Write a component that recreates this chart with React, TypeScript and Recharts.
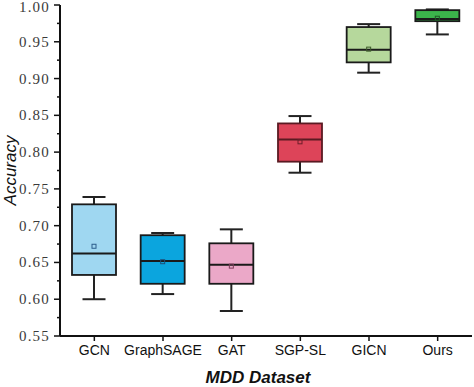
import { ComposedChart, Bar, XAxis, YAxis, Label } from 'recharts'

// box plot values
const categories = ['GCN', 'GraphSAGE', 'GAT', 'SGP-SL', 'GICN', 'Ours'];
const whiskerLow = [0.600, 0.607, 0.584, 0.772, 0.908, 0.960];
const q1 = [0.633, 0.621, 0.621, 0.787, 0.922, 0.978];
const medians = [0.662, 0.652, 0.647, 0.817, 0.939, 0.981];
const q3 = [0.729, 0.687, 0.676, 0.839, 0.970, 0.993];
const whiskerHigh = [0.739, 0.690, 0.695, 0.849, 0.974, 0.994];
const means = [0.672, 0.651, 0.645, 0.814, 0.940, 0.982];
const yTicks = [0.55, 0.575, 0.6, 0.625, 0.65, 0.675, 0.7, 0.725, 0.75, 0.775, 0.8, 0.825, 0.85, 0.875, 0.9, 0.925, 0.95, 0.975, 1.0];

const fills = ['#9fd7f1', '#0ba5de', '#eba8c8', '#dd4459', '#b6d89c', '#3bb44b'];
const borders = ['#1a1a1a', '#1a1a1a', '#1a1a1a', '#5a1a22', '#1a1a1a', '#1a1a1a'];
const meanColors = ['#2c5d8c', '#1d4f7a', '#7a3b58', '#6e1e2a', '#3d5a2a', '#1f5a25'];

const rows = categories.map((name, i) => ({
    name,
    low: whiskerLow[i],
    q1: q1[i],
    median: medians[i],
    q3: q3[i],
    high: whiskerHigh[i],
    mean: means[i],
    idx: i,
}));

const BoxShape = (props: any) => {
    const { x, y, width, height, payload } = props;
    const { low, high } = payload;
    // map a value into pixels using the bar's own scaled extent
    const py = (v: number) => y + (height * (high - v)) / (high - low);
    const cx = x + width / 2;
    const i = payload.idx;
    const cap = 11.5;
    return (
        <g>
            <line x1={cx} x2={cx} y1={py(high)} y2={py(payload.q3)} stroke='#222' strokeWidth={2} />
            <line x1={cx} x2={cx} y1={py(payload.q1)} y2={py(low)} stroke='#222' strokeWidth={2} />
            <line x1={cx - cap} x2={cx + cap} y1={py(high)} y2={py(high)} stroke='#222' strokeWidth={2} />
            <line x1={cx - cap} x2={cx + cap} y1={py(low)} y2={py(low)} stroke='#222' strokeWidth={2} />
            <rect x={x} y={py(payload.q3)} width={width} height={py(payload.q1) - py(payload.q3)}
                fill={fills[i]} stroke={borders[i]} strokeWidth={1.8} />
            <line x1={x} x2={x + width} y1={py(payload.median)} y2={py(payload.median)} stroke={borders[i]} strokeWidth={2} />
            <rect x={cx - 2} y={py(payload.mean) - 2} width={4} height={4} fill='none' stroke={meanColors[i]} strokeWidth={1} />
        </g>
    );
};

const YTick = (props: any) => {
    const { x, y, payload } = props;
    const v = payload.value;
    const major = Math.round(v * 1000) % 50 === 0;
    return (
        <g>
            <line x1={x - (major ? 6 : 3)} x2={x} y1={y} y2={y} stroke='#111' strokeWidth={1.5} />
            {major && (
                <text x={x - 10} y={Math.max(y + 5, 12)} textAnchor='end'
                    fontFamily='Liberation Serif' fontSize={15} fill='#3a3a3a' letterSpacing={1.2}>
                    {v.toFixed(2)}
                </text>
            )}
        </g>
    );
};

const App = () => {
    return (
        <div style={{ position: 'absolute', left: 0, top: 0, background: 'white' }}>
            <ComposedChart width={474} height={387} data={rows}
                margin={{ top: 5, right: 2, bottom: 0, left: 0 }}>
                <XAxis dataKey='name' height={51} tickSize={5} tickMargin={4}
                    axisLine={{ stroke: '#111', strokeWidth: 2 }}
                    tickLine={{ stroke: '#111', strokeWidth: 1.5 }}
                    tick={{ fill: '#111', fontSize: 14, fontFamily: 'Liberation Sans' }}>
                    <Label value='MDD Dataset' position='center' dx={-8} dy={15}
                        style={{ fontFamily: 'Liberation Sans', fontSize: 17, fontWeight: 'bold', fontStyle: 'italic', fill: '#111' }} />
                </XAxis>
                <YAxis type='number' domain={[0.55, 1.0]} ticks={yTicks} interval={0} width={60}
                    allowDataOverflow tickSize={0} tickMargin={0} tickLine={false}
                    axisLine={{ stroke: '#111', strokeWidth: 2 }} tick={<YTick />}>
                    <Label value='Accuracy' position='center' angle={-90} dx={-20}
                        style={{ fontFamily: 'Liberation Sans', fontSize: 17, fontStyle: 'italic', fill: '#111' }} />
                </YAxis>
                <Bar dataKey={(d: any) => [d.low, d.high]} barSize={44} isAnimationActive={false} shape={BoxShape} />
            </ComposedChart>
        </div>
    )
}

export default App;
